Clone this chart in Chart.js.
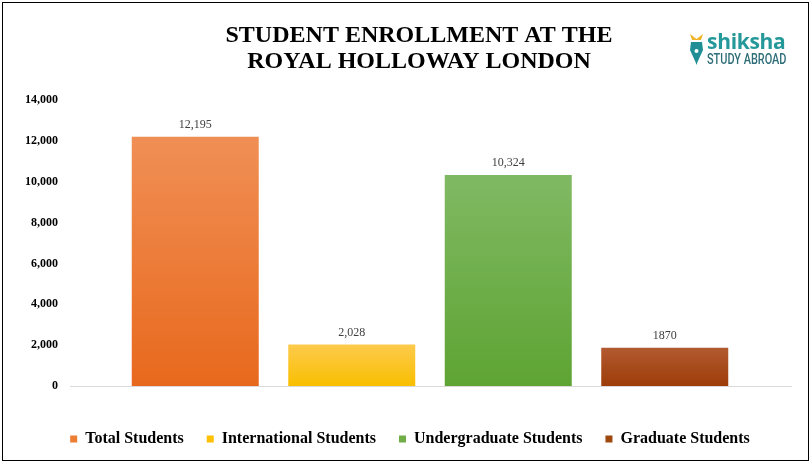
<!DOCTYPE html>
<html><head><meta charset="utf-8">
<script src="https://cdn.jsdelivr.net/npm/chart.js@4.4.1/dist/chart.umd.min.js"></script>
<style>
html,body{margin:0;padding:0;background:#fff;}
#wrap{position:relative;width:812px;height:464px;overflow:hidden;}
canvas{position:absolute;left:0;top:0;}
#frame{position:absolute;left:2px;top:2px;width:805px;height:457px;border:1px solid #000;pointer-events:none;}
#logo{position:absolute;left:688px;top:31px;width:110px;height:40px;}
#logo svg{position:absolute;left:0;top:1px;}
#logo .s1{position:absolute;left:19px;top:-4px;font-family:"Open Sans",sans-serif;font-weight:700;font-size:21px;color:#25989a;letter-spacing:-0.3px;}
#logo .s2{position:absolute;left:19px;top:20px;font-family:"Roboto",sans-serif;font-weight:500;font-size:14px;color:#2e6e78;transform:scaleX(0.78);transform-origin:left top;white-space:nowrap;}
</style></head>
<body><div id="wrap"><canvas id="c" width="812" height="464"></canvas><div id="frame"></div>
<div id="logo">
<svg width="17" height="34" viewBox="0 0 17 34"><path d="M2 2 L8.5 7 L15 2 L13 8 L4 8 Z" fill="#f0b429"/><path d="M3 10 L14 10 L15 18 L9.5 30 L8.5 33 L7.5 30 L2 18 Z" fill="#1f8f95"/><circle cx="8.5" cy="19" r="2" fill="#fff"/></svg>
<div class="s1">shiksha</div><div class="s2">STUDY ABROAD</div>
</div>
</div>
<script>
const categories = ["Total Students", "International Students", "Undergraduate Students", "Graduate Students"];
const enrollment = [12195, 2028, 10324, 1870];
const valueLabels = ["12,195", "2,028", "10,324", "1870"];
const yTickValues = [0, 2000, 4000, 6000, 8000, 10000, 12000, 14000];
const titleLines = ["STUDENT ENROLLMENT AT THE", "ROYAL HOLLOWAY LONDON"];
const colorsTop = ["#f08f55", "#fdca4c", "#80b963", "#b25a30"];
const colorsBottom = ["#e8691d", "#f9bf00", "#5ea433", "#9d3c08"];
const legendColors = ["#ed7d31", "#ffc000", "#70ad47", "#9e480e"];

const SERIF = '"Liberation Serif","Times New Roman",serif';

function barFill(ctx, i) {
  const chart = ctx.chart;
  if (ctx.raw === null || ctx.raw === undefined || !chart.chartArea || !chart.scales.y) return legendColors[i];
  const y = chart.scales.y;
  const top = y.getPixelForValue(ctx.raw);
  const bottom = y.getPixelForValue(0);
  const g = chart.ctx.createLinearGradient(0, top, 0, bottom);
  g.addColorStop(0, colorsTop[i]);
  g.addColorStop(1, colorsBottom[i]);
  return g;
}

const datasets = categories.map((name, i) => ({
  label: name,
  data: enrollment.map((v, j) => (j === i ? v : null)),
  backgroundColor: (ctx) => barFill(ctx, i),
  borderWidth: 0,
  grouped: false,
  barPercentage: 0.8115,
  categoryPercentage: 1.0
}));

const labelPlugin = {
  id: 'valueLabels',
  afterDatasetsDraw(chart) {
    const ctx = chart.ctx;
    ctx.save();
    ctx.font = '12px ' + SERIF;
    ctx.fillStyle = '#404040';
    ctx.textAlign = 'center';
    ctx.textBaseline = 'middle';
    categories.forEach((c, i) => {
      const el = chart.getDatasetMeta(i).data[i];
      if (el) ctx.fillText(valueLabels[i], el.x, el.y - 12);
    });
    ctx.restore();
  }
};

const baselinePlugin = {
  id: 'baseline',
  beforeDatasetsDraw(chart) {
    const ctx = chart.ctx;
    const a = chart.chartArea;
    const y0 = Math.round(chart.scales.y.getPixelForValue(0)) + 0.5;
    ctx.save();
    ctx.strokeStyle = '#d9d9d9';
    ctx.lineWidth = 1;
    ctx.beginPath();
    ctx.moveTo(a.left - 47, y0);
    ctx.lineTo(a.right + 49, y0);
    ctx.stroke();
    ctx.restore();
  }
};

// nudge the legend a little to the left of the title's centre, as in the reference
const legendShiftPlugin = {
  id: 'legendShift',
  afterLayout(chart) {
    if (chart.legend) { chart.legend.left -= 9; chart.legend.right -= 9; }
  }
};

new Chart(document.getElementById('c'), {
  type: 'bar',
  data: { labels: categories, datasets },
  plugins: [labelPlugin, baselinePlugin, legendShiftPlugin],
  options: {
    responsive: false,
    devicePixelRatio: 1,
    animation: false,
    layout: { padding: { left: 26, right: 0, top: 0, bottom: 7 } },
    plugins: {
      tooltip: { enabled: false },
      title: {
        display: true,
        text: titleLines,
        color: '#000',
        font: { family: SERIF, size: 24, weight: 'bold', lineHeight: 26 / 24 },
        padding: { top: 23, bottom: 25 }
      },
      legend: {
        display: true,
        position: 'bottom',
        labels: {
          boxWidth: 7,
          boxHeight: 7,
          padding: 23,
          color: '#000',
          font: { family: SERIF, size: 16, weight: 'bold' },
          generateLabels: () => categories.map((c, i) => ({
            text: c, fillStyle: legendColors[i], strokeStyle: legendColors[i],
            lineWidth: 0, hidden: false, datasetIndex: i, fontColor: '#000'
          }))
        }
      }
    },
    scales: {
      x: {
        grid: { display: false },
        border: { display: false },
        ticks: { display: false },
        afterFit: (s) => { s.height = 22; }
      },
      y: {
        min: 0,
        max: 14000,
        afterBuildTicks: (s) => { s.ticks = yTickValues.map(v => ({ value: v })); },
        grid: { display: false, drawTicks: false },
        border: { display: false },
        ticks: {
          padding: 59,
          color: '#000',
          font: { family: SERIF, size: 12, weight: 'bold' },
          callback: (v) => v.toLocaleString('en-US')
        },
        afterFit: (s) => { s.width = 91; }
      },
      y2: {
        position: 'right',
        display: true,
        min: 0,
        max: 1,
        grid: { display: false, drawTicks: false },
        border: { display: false },
        ticks: { display: false },
        afterFit: (s) => { s.width = 69; }
      }
    }
  }
});
</script>
</body></html>
